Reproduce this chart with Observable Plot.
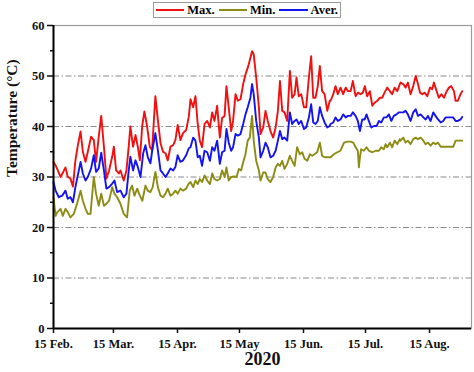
<!DOCTYPE html>
<html>
<head>
<meta charset="utf-8">
<script src="https://cdn.jsdelivr.net/npm/d3@7"></script>
<script src="https://cdn.jsdelivr.net/npm/@observablehq/plot@0.6"></script>
<style>
  html, body { margin: 0; padding: 0; background: #fff; }
  #wrap { position: relative; width: 474px; height: 372px; }
  #legend {
    position: absolute; left: 153px; top: 2px; width: 188px; height: 16px;
    border: 1px solid #9a9a9a; background: #fff; box-sizing: border-box;
    font-family: "Liberation Serif", serif; font-weight: bold; font-size: 12.5px;
    display: flex; align-items: center; white-space: nowrap;
  }
  #legend .sw { display: inline-block; height: 2px; margin: 0 3px 0 2px; }
  #legend .lb { margin-right: 2px; }
</style>
</head>
<body>
<div id="wrap">
  <div id="chart"></div>
  <div id="legend"></div>
</div>
<script>
// Day offsets from 15 Feb 2020 and temperatures (°C)
const maxDay = [0,1,2.1,3.4,4.7,5.8,6.9,8.2,9.4,10.6,11.8,13.1,14.2,15.5,16.6,18.2,19.5,20.6,21.9,23.1,24.4,25.6,26.9,28.4,29.2,30.3,31.6,
  32.4,34.0,35.3,36.4,37.2,38.5,39.7,40.8,41.8,42.9,44.0,45.3,46.6,47.7,49.3,50.5,51.8,53.0,54.2,55.3,56.6,57.9,59.0,60.1,61.4,62.7,64.2,65.5,
  66.3,67.6,68.7,69.8,70.8,71.9,73.1,74.4,75.7,76.8,77.9,79.2,80.5,81.6,82.8,83.7,84.8,86.0,86.9,88.1,89.2,90.5,91.8,92.9,94.0,95.3,96.1,96.9,98.1,99.4,
  100.2,101.5,102.6,103.7,105.0,106.3,107.5,108.6,109.6,110.7,111.8,113.1,114.4,115.5,116.7,117.6,118.7,119.9,121.2,122.3,123.6,124.7,125.7,126.8,127.9,128.9,130.0,131.2,132.5,133.7,
  134.1,135.4,136.5,137.6,138.9,140.2,141.4,142.5,143.8,144.9,146.2,147.3,148.6,149.7,150.7,151.8,153.1,154.3,155.4,156.7,158.0,159.1,160.2,161.5,162.8,163.9,165.1,166.4,167.6,
  168.0,169.3,170.4,171.5,172.8,174.1,175.3,176.4,177.4,178.5,179.6,180.9,182.2,183.3,184.1,185.4,186.5,187.7,189.0,190.3,191.4,192.5,193.8,194.6,195.7,197.0,197.8];
const maxTemp = [33.0,32.3,31.3,30.0,31.0,31.9,30.0,29.7,28.1,33.3,36.3,39.0,35.0,33.0,35.0,38.0,37.3,33.0,38.0,42.1,36.0,29.7,31.3,34.0,36.0,31.3,30.7,
  31.3,29.3,31.3,36.0,40.0,36.0,38.3,36.0,33.3,40.0,43.0,40.0,36.0,35.3,46.0,41.3,36.7,35.0,34.7,33.3,36.0,36.3,37.3,40.3,37.3,38.7,39.3,42.0,
  45.4,43.8,46.0,40.5,37.2,35.9,40.5,41.1,39.8,42.8,41.1,44.1,37.8,41.7,42.1,48.0,43.8,39.1,41.1,46.4,45.1,45.4,48.4,50.3,51.6,53.6,54.9,54.3,49.7,43.8,
  38.5,39.8,43.1,41.1,39.1,37.8,39.8,43.1,49.0,43.1,42.8,41.1,51.0,45.7,46.4,49.7,46.0,46.4,43.8,43.8,49.7,53.9,45.7,45.7,48.0,52.0,47.0,46.4,43.1,45.1,
  45.1,46.4,48.0,46.4,47.7,46.4,47.7,47.0,47.0,49.0,46.0,46.7,46.4,46.7,48.0,46.0,47.0,44.1,44.7,45.1,45.7,45.7,46.7,47.7,47.0,46.4,47.7,47.0,48.4,
  48.7,48.4,47.7,48.7,46.4,48.0,50.0,48.4,46.7,46.4,46.7,46.0,47.7,47.4,48.7,47.0,45.7,46.4,45.7,47.0,47.7,48.0,47.0,45.1,45.1,46.4,47.0];

const minDay = [0,1,1.8,3.4,4.5,5.8,6.9,8.2,9.8,11.4,13.1,14.2,15.5,16.6,17.9,19.5,20.6,21.9,23.1,24.4,25.6,26.9,28.4,29.5,30.8,
  32.4,34.0,35.6,36.9,38.0,39.2,40.5,41.8,43.0,44.5,45.6,46.9,48.0,49.3,50.5,51.8,53.0,54.2,55.3,56.6,57.9,59.0,60.1,61.4,62.7,64.2,65.5,
  66.3,67.6,68.7,69.8,70.8,71.9,73.1,74.4,75.7,76.8,77.9,79.2,80.5,81.6,82.8,83.7,84.8,86.0,87.3,88.6,89.7,90.8,91.8,92.9,94.0,95.0,96.1,96.9,98.1,99.4,
  100.2,101.5,102.6,103.7,105.0,106.3,107.5,108.6,109.6,110.7,111.8,113.1,114.4,115.5,116.7,117.9,119.2,120.4,121.5,122.8,124.1,125.2,126.3,127.6,128.9,130.0,131.2,132.5,
  134.1,135.7,137.3,138.9,140.6,142.2,143.8,145.1,146.2,147.3,147.8,148.3,148.9,150.2,151.5,152.6,154.3,155.9,157.5,158.6,159.9,160.7,161.5,162.8,163.9,165.1,166.4,167.6,
  168.0,169.3,170.4,171.5,172.8,174.1,175.3,176.4,177.7,179.0,180.1,181.2,182.5,183.8,184.9,186.1,187.4,190.6,193.5,194.6,197.8];
const minTemp = [26.0,22.3,23.0,23.7,22.3,23.7,23.0,22.0,22.7,24.7,27.3,25.3,23.7,22.7,22.7,30.0,26.7,24.3,26.7,24.3,24.7,25.3,28.0,26.7,26.0,
  24.7,22.7,22.0,27.3,28.3,26.3,27.7,26.3,25.3,28.3,27.3,27.0,28.0,31.0,28.0,26.3,26.0,26.7,27.7,26.3,26.7,27.3,26.7,27.7,27.3,27.7,28.7,
  29.0,28.0,29.3,28.6,29.6,29.0,30.3,29.3,28.6,30.7,29.6,29.3,29.6,31.3,30.0,31.9,29.3,30.0,30.1,30.0,31.6,31.3,32.9,34.5,37.2,37.8,42.1,37.2,33.2,31.3,
  29.3,30.9,30.9,29.6,29.0,30.0,31.9,32.6,32.2,33.2,31.6,32.6,34.2,33.2,32.2,35.9,34.5,34.9,33.6,33.2,34.5,34.2,34.5,34.9,36.8,34.2,33.9,33.9,
  33.9,34.5,34.9,35.2,36.8,37.0,37.0,36.8,35.9,35.2,31.9,33.9,35.5,35.2,35.9,35.2,34.9,35.2,35.2,35.9,35.5,36.5,35.9,36.8,35.9,37.2,36.5,37.5,
  37.2,37.8,36.8,37.2,36.5,37.5,37.8,37.5,37.8,37.2,36.5,36.8,36.2,36.8,36.5,36.8,36.0,36.0,36.0,37.2,37.2];

const avgDay = [0,1.0,2.6,4.2,5.8,6.9,8.2,9.4,10.6,13.1,14.2,15.5,16.6,18.2,19.5,20.6,21.9,23.1,24.4,25.6,26.9,28.4,29.5,30.8,
  32.4,34.0,35.3,36.4,37.2,38.5,39.7,40.8,42.1,43.4,44.5,45.6,46.9,47.7,49.3,50.5,51.8,53.0,54.2,55.3,56.6,57.9,59.0,60.1,61.4,62.7,64.2,65.5,
  66.3,67.6,68.7,69.8,70.8,71.9,73.1,74.4,75.7,76.8,77.9,79.2,80.5,81.6,82.8,83.7,84.8,86.0,86.9,88.1,89.2,90.5,91.8,92.9,94.0,95.3,96.1,96.9,98.1,99.4,
  100.2,101.5,102.6,103.7,105.0,106.3,107.5,108.6,109.6,110.7,111.8,113.1,114.4,115.5,116.7,117.6,118.7,119.9,121.2,122.3,123.6,124.7,125.7,126.8,127.9,128.9,130.0,131.2,132.5,133.7,
  134.1,135.4,136.5,137.6,138.9,140.2,141.4,142.5,143.8,144.9,146.2,147.3,148.3,149.4,150.6,151.5,152.6,153.8,155.1,156.4,157.5,158.6,159.9,161.2,162.3,163.5,164.7,166.0,167.2,
  168.0,169.3,170.4,171.5,172.8,174.1,175.3,176.4,177.7,179.0,180.1,181.2,182.5,183.8,184.9,186.1,187.4,188.6,189.8,190.9,192.2,193.5,194.6,195.7,197.0,197.8];
const avgTemp = [29.0,27.3,26.0,26.3,27.3,25.7,26.0,25.0,28.0,33.0,30.7,29.3,30.0,31.7,34.3,31.0,31.7,34.8,31.3,27.7,28.0,28.7,29.3,27.0,
  27.3,26.0,26.7,31.3,34.0,31.3,33.3,32.0,30.0,34.7,36.3,34.0,32.7,35.0,38.7,35.3,31.3,30.7,30.0,30.7,31.7,31.3,32.0,34.3,33.0,33.3,34.3,35.7,
  35.9,37.8,37.2,33.9,34.2,32.2,35.2,34.9,33.2,35.9,35.2,37.2,32.6,34.9,35.2,39.5,36.8,35.2,35.9,38.5,38.2,38.5,40.5,42.4,43.8,45.7,48.4,46.4,41.1,37.8,
  33.9,35.2,36.8,35.9,33.9,34.2,35.2,37.2,39.1,37.5,37.8,37.2,42.8,40.5,41.1,41.4,40.5,41.1,39.5,39.8,41.8,44.4,40.8,40.5,41.1,43.8,42.1,40.8,39.8,40.1,
  40.5,40.8,41.8,41.1,41.4,42.4,41.8,42.1,42.1,42.8,42.1,41.1,39.1,41.4,41.4,42.4,41.1,39.8,40.1,40.1,41.1,40.8,41.8,41.8,42.4,41.1,42.1,42.4,42.8,
  42.8,42.8,43.1,42.4,41.1,42.8,43.4,42.1,42.4,41.8,41.4,42.1,41.1,42.8,42.1,41.4,40.8,41.1,41.8,41.8,41.8,41.8,41.1,41.1,41.4,41.9];

const seriesNames = ["Max.", "Min.", "Aver."];
const seriesColors = ["#f01010", "#8c8c14", "#1414f0"];
const yTicks = [0, 10, 20, 30, 40, 50, 60];
const yMinorTicks = [5, 15, 25, 35, 45, 55];
const gridValues = [10, 20, 30, 40, 50];
const xTickDates = ["2020-02-15", "2020-03-15", "2020-04-15", "2020-05-15", "2020-06-15", "2020-07-15", "2020-08-15"];
const xTickLabels = ["15 Feb.", "15 Mar.", "15 Apr.", "15 May", "15 Jun.", "15 Jul.", "15 Aug."];
const yTitle = "Temperature (°C)";
const xTitle = "2020";

const base = new Date(Date.UTC(2020, 1, 15));
const toDate = d => new Date(base.getTime() + d * 864e5);
const mk = (days, temps) => days.map((d, i) => ({date: toDate(d), t: temps[i]}));
const series = [mk(maxDay, maxTemp), mk(minDay, minTemp), mk(avgDay, avgTemp)];
const tickDates = xTickDates.map(s => new Date(s + "T00:00:00Z"));

const font = "'Liberation Serif', 'Times New Roman', serif";

const chart = Plot.plot({
  width: 474,
  height: 372,
  marginTop: 25,
  marginBottom: 44,
  marginLeft: 53,
  marginRight: 3,
  style: {fontFamily: font, fontWeight: "bold", fontSize: "12px", color: "#111", background: "#fff"},
  x: {type: "utc", domain: [base, toDate(202.3)]},
  y: {domain: [0, 60]},
  marks: [
    Plot.ruleY(gridValues, {stroke: "#8a8a8a", strokeWidth: 1, strokeDasharray: "6,2.5,1.5,2.5"}),
    Plot.frame({stroke: "#9a9a9a", strokeWidth: 1.2}),
    ...series.map((s, i) => Plot.line(s, {x: "date", y: "t", stroke: seriesColors[i], strokeWidth: 1.9})),
    Plot.ruleY([0], {stroke: "#000", strokeWidth: 2}),
    Plot.ruleX([base], {stroke: "#000", strokeWidth: 2}),
    Plot.axisY({ticks: yTicks, tickSize: 6, tickPadding: 3, tickFormat: d => String(d), label: null, fontSize: 12.5, strokeWidth: 1.5}),
    Plot.axisY({ticks: yMinorTicks, tickSize: 3, tickFormat: () => "", label: null, strokeWidth: 1.5}),
    Plot.axisX({ticks: tickDates, tickSize: 5, tickPadding: 6, tickFormat: (d, i) => xTickLabels[i], label: null, fontSize: 12.5, strokeWidth: 1.5}),
    Plot.text([yTitle], {frameAnchor: "left", dx: -41, rotate: -90, fontSize: 15.5, fontWeight: "bold", fill: "#111"}),
    Plot.text([xTitle], {frameAnchor: "bottom", dy: 36, fontSize: 18, fontWeight: "bold", fill: "#111"})
  ]
});
document.getElementById("chart").appendChild(chart);

const legend = document.getElementById("legend");
seriesNames.forEach((name, i) => {
  const sw = document.createElement("span");
  sw.className = "sw";
  sw.style.width = "29px";
  sw.style.background = seriesColors[i];
  legend.appendChild(sw);
  const lb = document.createElement("span");
  lb.className = "lb";
  lb.textContent = name;
  legend.appendChild(lb);
});
</script>
</body>
</html>
